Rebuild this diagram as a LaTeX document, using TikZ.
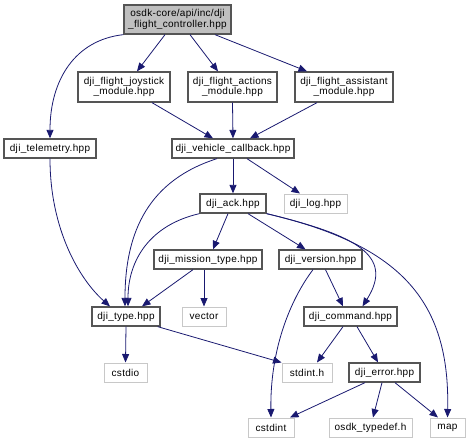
\documentclass[tikz,border=0pt]{standalone}
\usepackage{fontspec}
\setmainfont{Liberation Sans}[LetterSpace=3]
\usetikzlibrary{arrows.meta}

\definecolor{edgeblue}{HTML}{191970}
\definecolor{darkframe}{HTML}{555555}
\definecolor{lightframe}{HTML}{C8C8C8}
\definecolor{rootfill}{HTML}{BFBFBF}

\begin{document}
\begin{tikzpicture}[x=1pt,y=-1pt,
  every node/.style={font=\fontsize{10}{10.8}\selectfont, inner sep=0pt, align=center},
  file/.style={draw=darkframe, line width=1.3pt, minimum height=19pt},
  sysfile/.style={draw=lightframe, line width=1pt, minimum height=19pt},
  rootfile/.style={file, fill=rootfill, minimum height=29pt},
  twoline/.style={file, minimum height=30pt},
  edge/.style={draw=edgeblue, line width=0.8pt, -{Triangle[length=8.5pt,width=7pt]}}]

% Fix the page
\useasboundingbox (0,0) rectangle (469,442);

% Draw the files
\node[rootfile, minimum width=107pt] (root) at (177.5,19.5) {osdk-core/api/inc/dji\\\_flight\_controller.hpp};
\node[twoline, minimum width=92pt] (joy) at (124,87) {dji\_flight\_joystick\\\_module.hpp};
\node[twoline, minimum width=89pt] (act) at (232.5,87) {dji\_flight\_actions\\\_module.hpp};
\node[twoline, minimum width=98pt] (ast) at (344,87) {dji\_flight\_assistant\\\_module.hpp};
\node[file, minimum width=92pt] (tele) at (50,148.5) {dji\_telemetry.hpp};
\node[file, minimum width=122pt] (vc) at (233,148.5) {dji\_vehicle\_callback.hpp};
\node[file, minimum width=66pt] (ack) at (233,203.5) {dji\_ack.hpp};
\node[sysfile, minimum width=63pt] (log) at (315.5,203.5) {dji\_log.hpp};
\node[file, minimum width=108pt] (mis) at (208,259.5) {dji\_mission\_type.hpp};
\node[file, minimum width=83pt] (ver) at (320.5,259.5) {dji\_version.hpp};
\node[file, minimum width=68pt] (type) at (126,316.5) {dji\_type.hpp};
\node[sysfile, minimum width=44pt] (vec) at (204,316.5) {vector};
\node[file, minimum width=93pt] (cmd) at (350.5,316.5) {dji\_command.hpp};
\node[sysfile, minimum width=43pt] (cstdio) at (125.5,372.5) {cstdio};
\node[sysfile, minimum width=50pt] (stdinth) at (307,372.5) {stdint.h};
\node[file, minimum width=71pt] (err) at (384.5,372.5) {dji\_error.hpp};
\node[sysfile, minimum width=46pt] (cstdint) at (271,427.5) {cstdint};
\node[sysfile, minimum width=83pt] (typedef) at (370.5,427.5) {osdk\_typedef.h};
\node[sysfile, minimum width=35pt] (map) at (447.5,427.5) {map};

% Draw the includes of the controller
\draw[edge] (root.south west) .. controls (75,40) and (50,80) .. (tele.north);
\draw[edge] ([xshift=-12.5pt]root.south) -- ([xshift=13pt]joy.north);
\draw[edge] ([xshift=12.5pt]root.south) -- ([xshift=-14.5pt]act.north);
\draw[edge] ([xshift=37.5pt]root.south) -- ([xshift=-37pt]ast.north);

% Draw the includes of the modules
\draw[edge] ([xshift=28pt]joy.south) -- ([xshift=-20pt]vc.north);
\draw[edge] (act.south) -- (vc.north);
\draw[edge] ([xshift=-27pt]ast.south) -- ([xshift=17pt]vc.north);
\draw[edge] (tele.south) .. controls (50,230) and (80,280) .. ([xshift=-16pt]type.north);

% Draw the includes of the callback
\draw[edge] ([xshift=-16pt]vc.south) .. controls (150,180) and (125,230) .. ([xshift=-1pt]type.north);
\draw[edge] (vc.south) -- (ack.north);
\draw[edge] ([xshift=14pt]vc.south) -- ([xshift=-15.5pt]log.north);

% Draw the includes of the ack
\draw[edge] (ack.south west) .. controls (150,225) and (128,260) .. ([xshift=2pt]type.north);
\draw[edge] ([xshift=-5pt]ack.south) -- ([xshift=5pt]mis.north);
\draw[edge] ([xshift=15pt]ack.south) -- ([xshift=-15pt]ver.north);
\draw[edge] (ack.south east) .. controls (355,235) and (395,255) .. ([xshift=12pt]cmd.north);
\draw[edge] (ack.south east) .. controls (400,245) and (450,300) .. (map.north);

% Draw the lower includes
\draw[edge] ([xshift=-15pt]mis.south) -- ([xshift=16pt]type.north);
\draw[edge] ([xshift=-4pt]mis.south) -- (vec.north);
\draw[edge] ([xshift=-7.5pt]ver.south) .. controls (290,300) and (270,350) .. (cstdint.north);
\draw[edge] ([xshift=5pt]ver.south) -- ([xshift=-7.5pt]cmd.north);
\draw[edge] (type.south) -- (cstdio.north);
\draw[edge] ([xshift=-3pt]type.south east) -- (stdinth.north west);
\draw[edge] ([xshift=-7.5pt]cmd.south) -- ([xshift=10pt]stdinth.north);
\draw[edge] ([xshift=6.5pt]cmd.south) -- ([xshift=-6.5pt]err.north);
\draw[edge] ([xshift=-19.5pt]err.south) -- ([xshift=19pt]cstdint.north);
\draw[edge] ([xshift=-2.5pt]err.south) -- ([xshift=2.5pt]typedef.north);
\draw[edge] ([xshift=10.5pt]err.south) -- ([xshift=-9.5pt]map.north);

\end{tikzpicture}
\end{document}
